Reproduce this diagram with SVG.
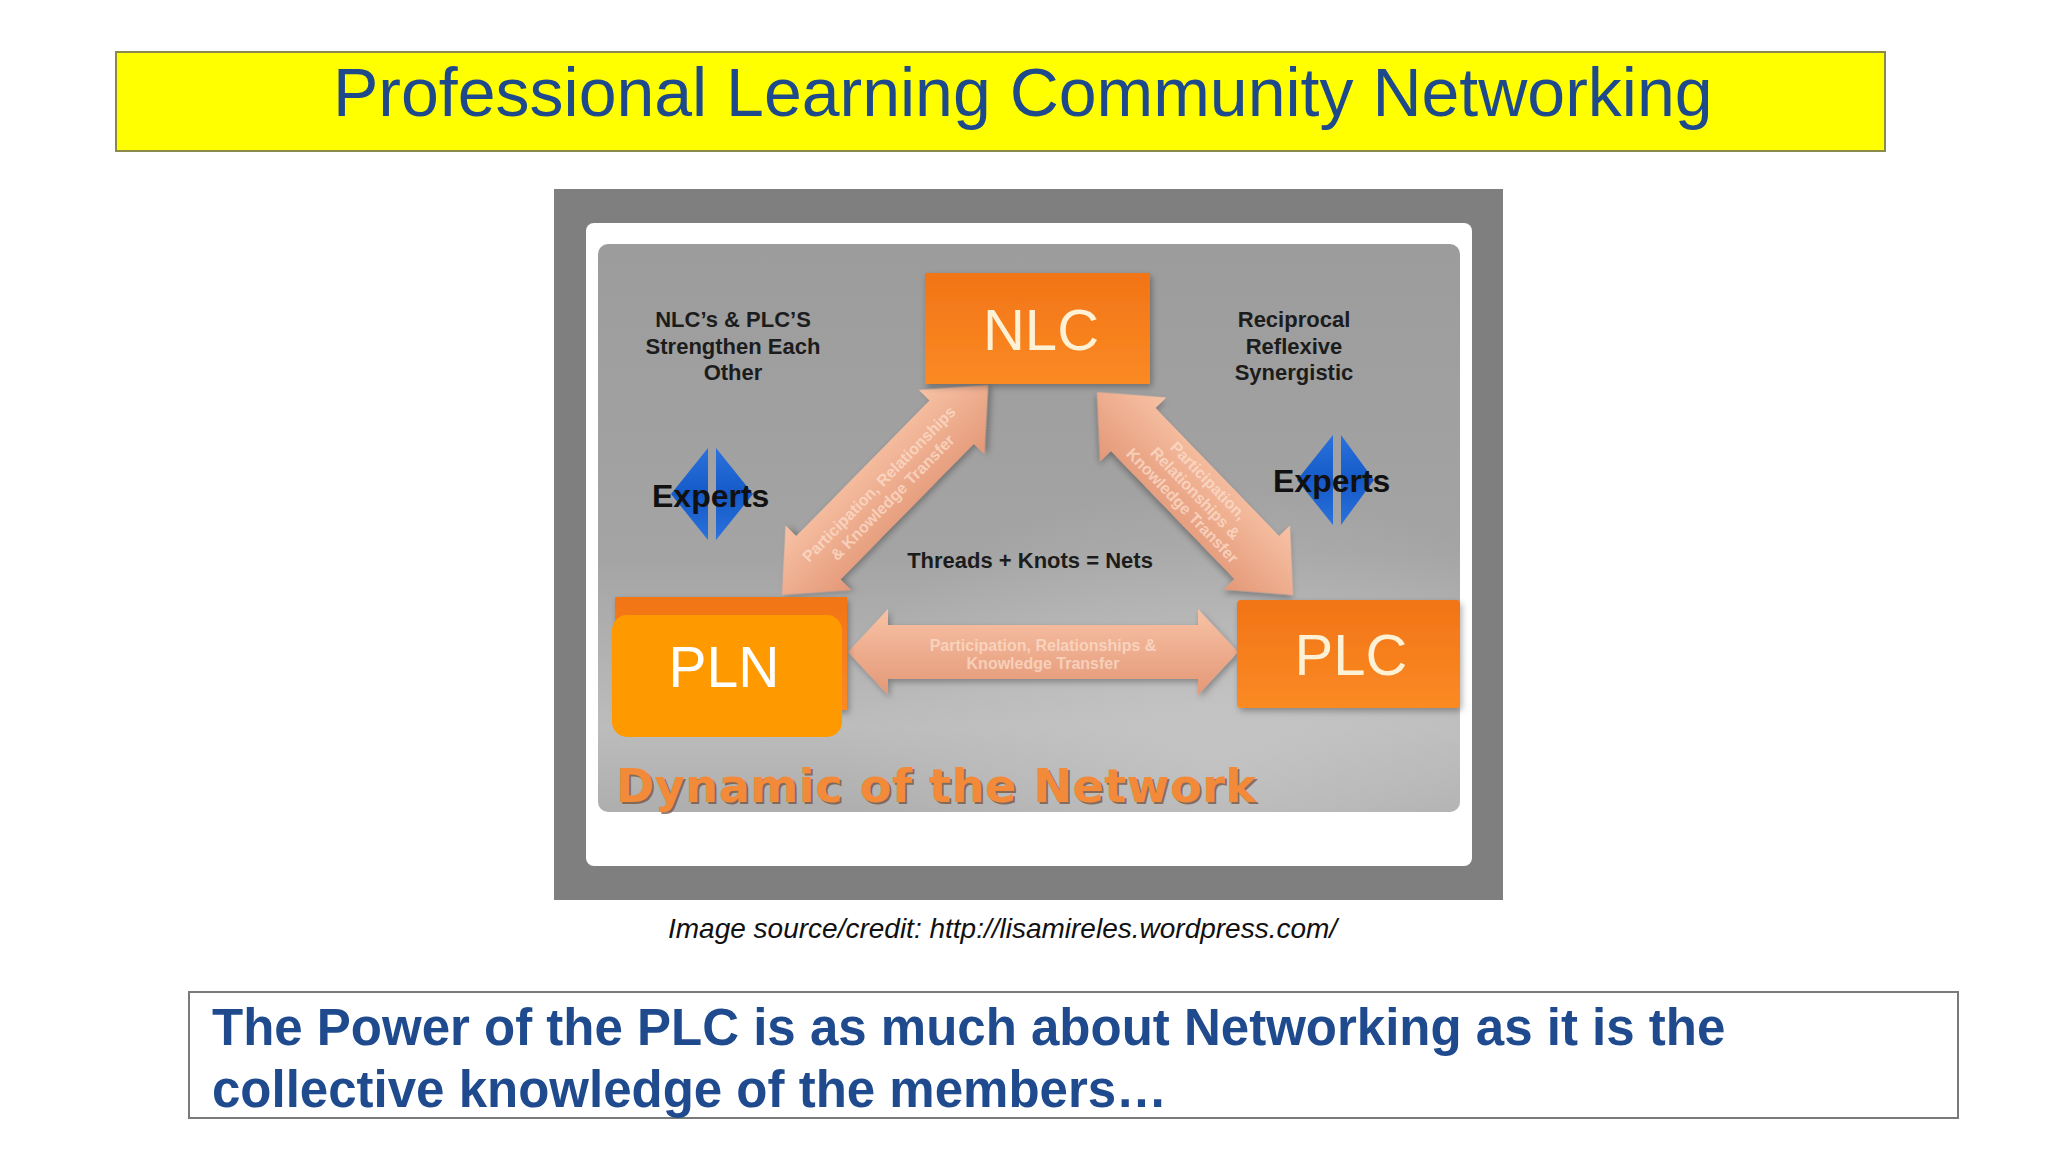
<svg xmlns="http://www.w3.org/2000/svg" width="2048" height="1152" viewBox="0 0 2048 1152">
  <defs>
    <style>
      .lbl { font-family: "Liberation Sans", Arial, sans-serif; font-weight: bold; fill: #1c1c1c; font-size: 22px; text-anchor: middle; }
      .exp { font-family: "Liberation Sans", Arial, sans-serif; font-weight: bold; fill: #111111; font-size: 32px; }
      .boxtxt { font-family: "Liberation Sans", Arial, sans-serif; fill: #fdf1d6; font-size: 58px; text-anchor: middle; }
      .arrtxt { font-family: "Liberation Sans", Arial, sans-serif; font-weight: bold; fill: #fde2d2; fill-opacity: 0.7; font-size: 16px; text-anchor: middle; }
      .arrow { fill: url(#arrowGrad); filter: url(#shadow); }
    </style>
    <linearGradient id="panelGrad" x1="0" y1="0" x2="0" y2="1">
      <stop offset="0" stop-color="#9c9c9c"/>
      <stop offset="0.55" stop-color="#a4a4a4"/>
      <stop offset="0.85" stop-color="#bcbcbc"/>
      <stop offset="1" stop-color="#aeaeae"/>
    </linearGradient>
    <radialGradient id="panelGlow" cx="0.72" cy="0.88" r="0.45">
      <stop offset="0" stop-color="#c8c8c8" stop-opacity="0.7"/>
      <stop offset="1" stop-color="#c8c8c8" stop-opacity="0"/>
    </radialGradient>
    <linearGradient id="orangeGrad" x1="0" y1="0" x2="0" y2="1">
      <stop offset="0" stop-color="#f27416"/>
      <stop offset="1" stop-color="#fb8a24"/>
    </linearGradient>
    <linearGradient id="arrowGrad" x1="0" y1="0" x2="0" y2="1">
      <stop offset="0" stop-color="#f8c2a5"/>
      <stop offset="1" stop-color="#e39877"/>
    </linearGradient>
    <linearGradient id="blueGrad" x1="0" y1="0" x2="0" y2="1">
      <stop offset="0" stop-color="#2a72dc"/>
      <stop offset="0.5" stop-color="#155ac8"/>
      <stop offset="1" stop-color="#2a72dc"/>
    </linearGradient>
    <filter id="shadow" x="-10%" y="-10%" width="130%" height="130%">
      <feDropShadow dx="2" dy="3" stdDeviation="3" flood-color="#000000" flood-opacity="0.3"/>
    </filter>
  </defs>

  <rect x="0" y="0" width="2048" height="1152" fill="#ffffff"/>

  <g id="title">
    <rect x="116" y="52" width="1769" height="99" fill="#ffff00" stroke="#8a8a4a" stroke-width="2"/>
    <text x="333" y="116" font-family="Liberation Sans, Arial, sans-serif" font-size="68" fill="#1e4a8c">Professional Learning Community Networking</text>
  </g>

  <g id="picture-frame">
    <rect x="554" y="189" width="949" height="711" fill="#7f7f7f"/>
    <rect x="586" y="223" width="886" height="643" rx="8" fill="#ffffff"/>
    <rect x="598" y="244" width="862" height="568" rx="10" fill="url(#panelGrad)"/>
    <rect x="598" y="244" width="862" height="568" rx="10" fill="url(#panelGlow)"/>
  </g>

  <g id="notes">
    <text class="lbl" x="733" y="327">NLC’s &amp; PLC’S</text>
    <text class="lbl" x="733" y="354">Strengthen Each</text>
    <text class="lbl" x="733" y="380">Other</text>
    <text class="lbl" x="1294" y="327">Reciprocal</text>
    <text class="lbl" x="1294" y="354">Reflexive</text>
    <text class="lbl" x="1294" y="380">Synergistic</text>
    <text class="lbl" x="1030" y="568">Threads + Knots = Nets</text>
  </g>

  <g id="experts-left">
    <polygon points="708,448 708,540 671,494" fill="url(#blueGrad)"/>
    <polygon points="716,448 716,540 753,494" fill="url(#blueGrad)"/>
    <text class="exp" x="652" y="507">Experts</text>
  </g>
  <g id="experts-right">
    <polygon points="1333,435 1333,525 1297,480" fill="url(#blueGrad)"/>
    <polygon points="1341,435 1341,525 1374,480" fill="url(#blueGrad)"/>
    <text class="exp" x="1273" y="492">Experts</text>
  </g>

  <g id="connectors">
    <g transform="translate(885,490) rotate(-45.5)">
      <polygon class="arrow" points="-147,0 -95,-46 -95,-31 95,-31 95,-46 147,0 95,46 95,31 -95,31 -95,46"/>
      <text class="arrtxt" x="0" y="-3">Participation, Relationships</text>
      <text class="arrtxt" x="0" y="16">&amp; Knowledge Transfer</text>
    </g>
    <g transform="translate(1195,493.5) rotate(46)">
      <polygon class="arrow" points="-141,0 -89,-46 -89,-31 89,-31 89,-46 141,0 89,46 89,31 -89,31 -89,46"/>
      <text class="arrtxt" x="0" y="-13">Participation,</text>
      <text class="arrtxt" x="0" y="5">Relationships &amp;</text>
      <text class="arrtxt" x="0" y="23">Knowledge Transfer</text>
    </g>
    <g transform="translate(1043,652)">
      <polygon class="arrow" points="-195,0 -155,-43 -155,-27 155,-27 155,-43 195,0 155,43 155,27 -155,27 -155,43"/>
      <text class="arrtxt" x="0" y="-1">Participation, Relationships &amp;</text>
      <text class="arrtxt" x="0" y="17">Knowledge Transfer</text>
    </g>
  </g>

  <g id="node-nlc">
    <rect x="925" y="273" width="225" height="111" fill="url(#orangeGrad)" filter="url(#shadow)"/>
    <text class="boxtxt" x="1041" y="350">NLC</text>
  </g>

  <g id="node-plc">
    <rect x="1237" y="600" width="223" height="108" rx="4" fill="url(#orangeGrad)" filter="url(#shadow)"/>
    <text class="boxtxt" x="1351" y="675">PLC</text>
  </g>

  <g id="node-pln">
    <rect x="615" y="597" width="232" height="113" fill="url(#orangeGrad)" filter="url(#shadow)"/>
    <rect x="612" y="615" width="230" height="122" rx="15" fill="#ff9900"/>
    <text x="724" y="687" font-family="Liberation Sans, Arial, sans-serif" font-size="57" fill="#ffffff" text-anchor="middle">PLN</text>
  </g>

  <g id="caption">
    <text x="618" y="804" font-family="DejaVu Sans, sans-serif" font-weight="bold" font-size="46" fill="#6e4a30" fill-opacity="0.7" textLength="640">Dynamic of the Network</text>
    <text x="616" y="802" font-family="DejaVu Sans, sans-serif" font-weight="bold" font-size="46" fill="#f28a3a" textLength="640">Dynamic of the Network</text>
  </g>

  <g id="credit">
    <text x="668" y="938" font-family="Liberation Sans, Arial, sans-serif" font-style="italic" font-size="28" fill="#111111">Image source/credit: http://lisamireles.wordpress.com/</text>
  </g>

  <g id="summary">
    <rect x="189" y="992" width="1769" height="126" fill="#ffffff" stroke="#7a7a7a" stroke-width="2"/>
    <text x="212" y="1045" font-family="Liberation Sans, Arial, sans-serif" font-weight="bold" font-size="51" fill="#1f4b8e">The Power of the PLC is as much about Networking as it is the</text>
    <text x="212" y="1107" font-family="Liberation Sans, Arial, sans-serif" font-weight="bold" font-size="51" fill="#1f4b8e">collective knowledge of the members…</text>
  </g>
</svg>
